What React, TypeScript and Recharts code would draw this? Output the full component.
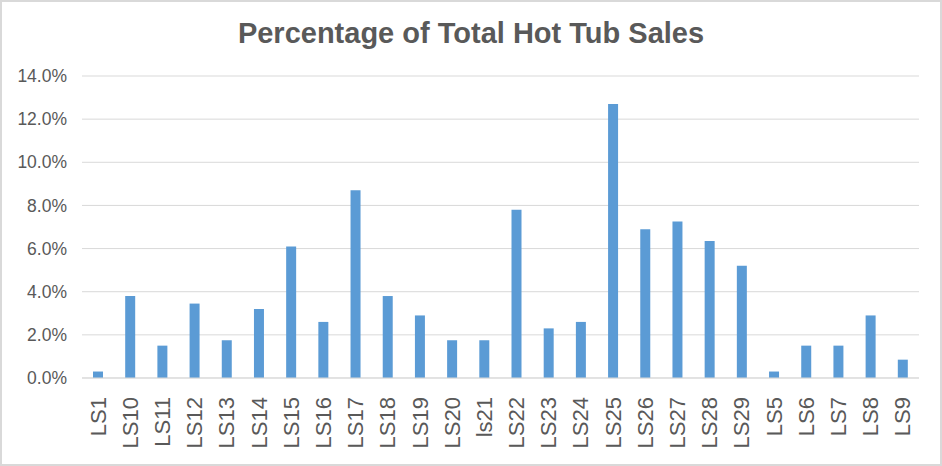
import { Bar, BarChart, CartesianGrid, XAxis, YAxis } from "recharts";

const stores = [
  "LS1", "LS10", "LS11", "LS12", "LS13", "LS14", "LS15", "LS16", "LS17", "LS18",
  "LS19", "LS20", "ls21", "LS22", "LS23", "LS24", "LS25", "LS26", "LS27", "LS28",
  "LS29", "LS5", "LS6", "LS7", "LS8", "LS9",
];

// percent of total sales
const shares = [
  0.3, 3.8, 1.5, 3.45, 1.75, 3.2, 6.1, 2.6, 8.7, 3.8,
  2.9, 1.75, 1.75, 7.8, 2.3, 2.6, 12.7, 6.9, 7.25, 6.35,
  5.2, 0.3, 1.5, 1.5, 2.9, 0.85,
];

const yTicks = [0, 2, 4, 6, 8, 10, 12, 14];

const data = stores.map((name, i) => ({ name, share: shares[i] }));

const FONT = '"Liberation Sans", Arial, sans-serif';
const TEXT = "#595959";

function StoreTick({ x, y, payload }: any) {
  return (
    <text
      x={x}
      y={y}
      transform={`rotate(-90 ${x} ${y})`}
      textAnchor="end"
      dominantBaseline="central"
      fontFamily={FONT}
      fontSize={22}
      fill={TEXT}
    >
      {payload.value}
    </text>
  );
}

export default function App() {
  return (
    <div
      style={{
        position: "absolute",
        left: 0,
        top: 0,
        width: 942,
        height: 466,
        background: "#fff",
        boxShadow: "inset 0 0 0 2px #d9d9d9",
        fontFamily: FONT,
      }}
    >
      <div
        style={{
          position: "absolute",
          left: 0,
          top: 19,
          width: 942,
          textAlign: "center",
          fontSize: 29,
          lineHeight: "29px",
          fontWeight: "bold",
          color: TEXT,
        }}
      >
        Percentage of Total Hot Tub Sales
      </div>
      <div style={{ position: "absolute", left: 0, top: 0 }}>
        <BarChart
          width={942}
          height={466}
          data={data}
          margin={{ top: 76, right: 23, left: 0, bottom: 0 }}
        >
          <CartesianGrid vertical={false} stroke="#d9d9d9" />
          <XAxis
            dataKey="name"
            interval={0}
            height={88}
            axisLine={{ stroke: "#d9d9d9" }}
            tickLine={false}
            tickSize={0}
            tickMargin={19}
            tick={<StoreTick />}
          />
          <YAxis
            width={82}
            domain={[0, 14]}
            ticks={yTicks}
            axisLine={false}
            tickLine={false}
            tickSize={0}
            tickMargin={15}
            tick={{ fill: TEXT, fontSize: 17.5, fontFamily: FONT }}
            tickFormatter={(v: number) => `${v.toFixed(1)}%`}
          />
          <Bar dataKey="share" fill="#5b9bd5" barSize={10} isAnimationActive={false} />
        </BarChart>
      </div>
    </div>
  );
}
